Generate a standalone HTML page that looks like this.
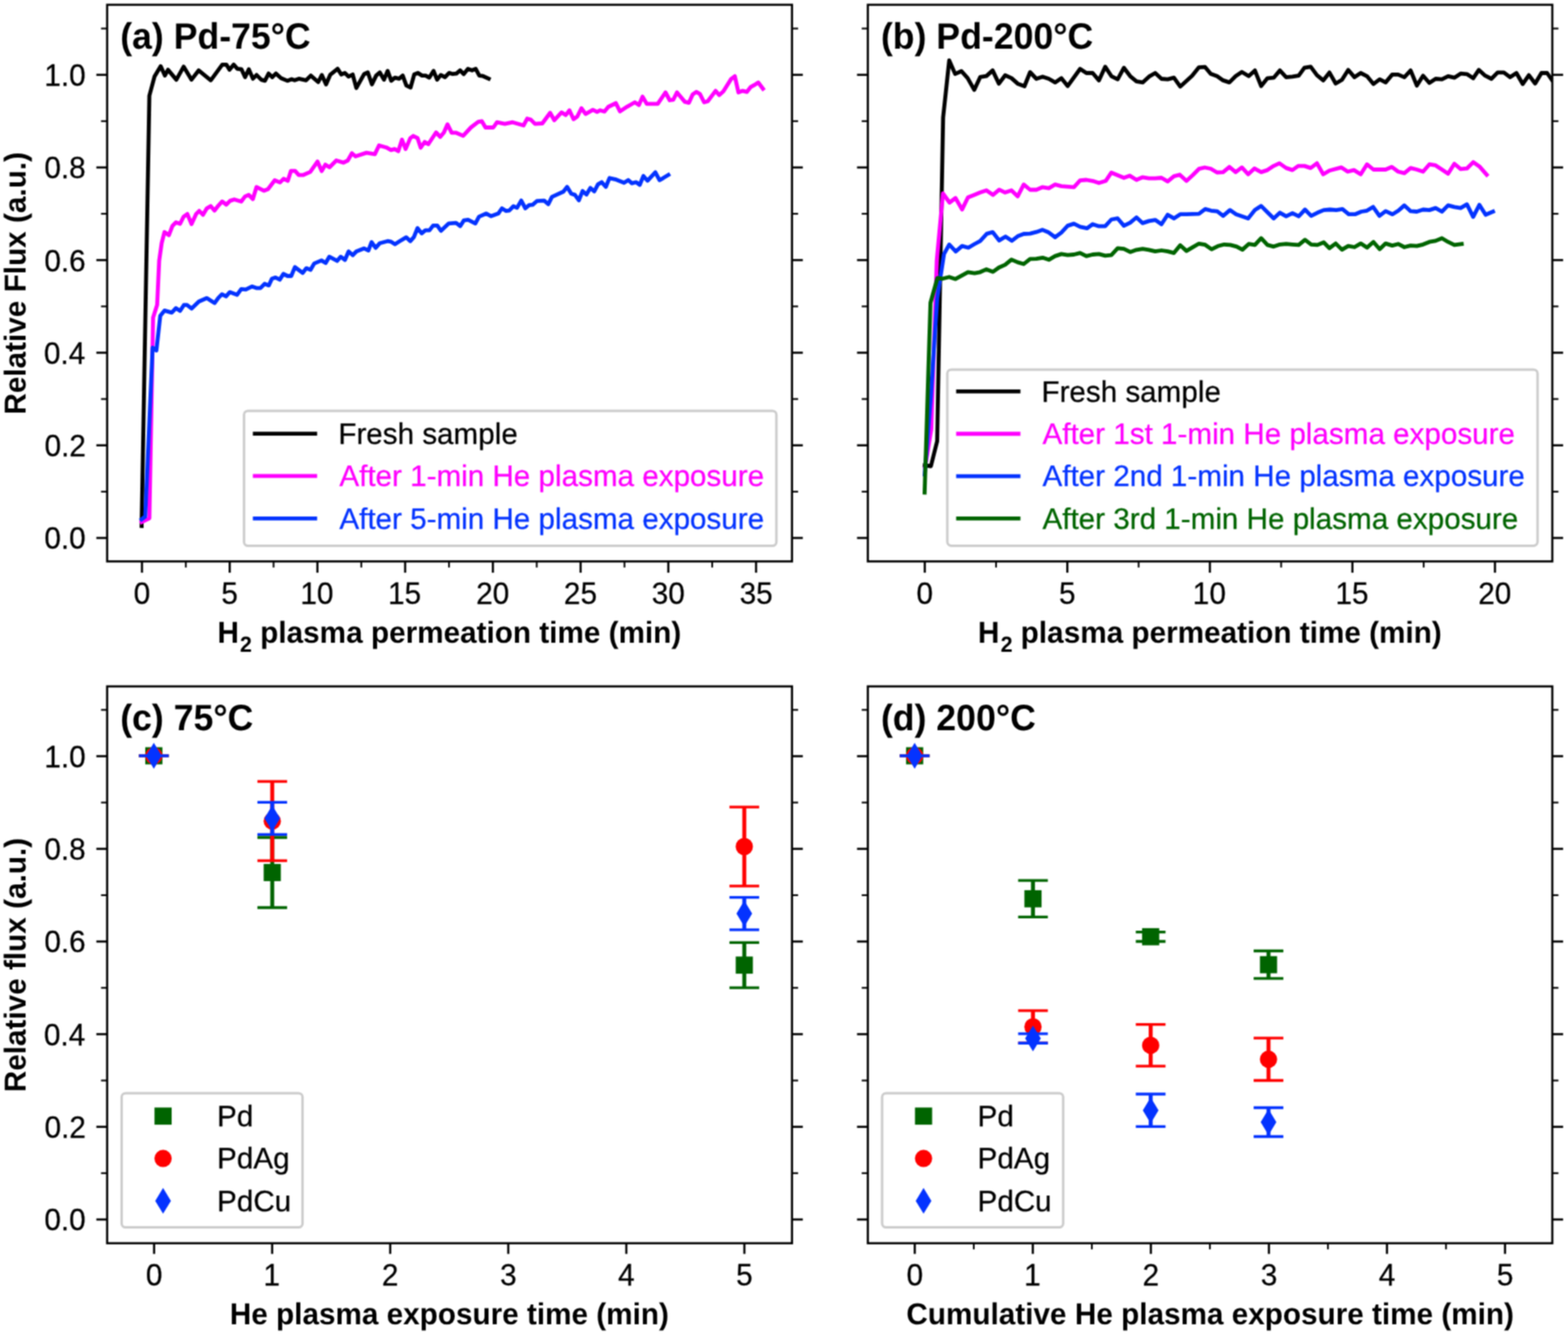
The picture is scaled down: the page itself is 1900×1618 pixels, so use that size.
<!DOCTYPE html>
<html lang="en">
<head>
<meta charset="utf-8">
<title>Relative flux vs plasma exposure</title>
<style>
html,body{margin:0;padding:0;background:#ffffff;}
body{width:1900px;height:1618px;overflow:hidden;}
svg{display:block;font-family:'Liberation Sans', sans-serif;}
</style>
</head>
<body>
<svg width="1900" height="1618" viewBox="0 0 1900 1618" role="img" aria-label="Relative hydrogen flux versus plasma exposure, four panels">
<rect x="0" y="0" width="1900" height="1618" fill="#ffffff"/>
<defs><filter id="soft" x="0" y="0" width="1900" height="1618" filterUnits="userSpaceOnUse" color-interpolation-filters="sRGB"><feConvolveMatrix order="3" kernelMatrix="1 2 1 2 4 2 1 2 1" divisor="16" edgeMode="duplicate" preserveAlpha="false"/></filter></defs>
<g filter="url(#soft)">
<rect x="0" y="0" width="1900" height="1618" fill="#ffffff"/>
<defs>
<clipPath id="cA"><rect x="129.85" y="5.8" width="829.85" height="674.6"/></clipPath>
<clipPath id="cB"><rect x="1051.6" y="5.8" width="829.4" height="674.6"/></clipPath>
</defs>
<g id="panel-a">
<polyline points="171.6,637.5 181,116 187.2,92.8 194.7,80.2 199.8,91.6 203.6,84.6 213.7,96.6 222.5,80.8 232,96.6 240.8,85.3 255.4,97.3 269.3,78.3 274.3,78.3 278.1,84.6 283.2,78.3 287.6,83.4 292.6,84 297,93.5 301.5,84 306.5,95.4 310.9,90.9 316.6,96.6 321,97.9 325.5,89.1 329.9,93.5 334.3,89.1 340.6,94.7 348.2,97.9 353.3,96 357,97.3 362.1,95.4 370.9,97.3 376.6,91.6 385.6,99.5 390,90.9 395.1,102.3 400.1,90.7 409.1,83.4 413.5,90.3 417.9,88.4 422.3,92.8 427.4,90.3 431.8,106.7 441.3,89.7 445.7,87.8 450.7,102.3 455.8,91.6 460.2,87.8 465.3,96.6 469.7,85.9 474.1,97.9 478.5,94.1 483.6,95.4 488,91.6 492.4,103.6 497.5,106.1 501.9,90.3 506.3,88.4 511.4,91.6 515.8,91.6 520.2,94.1 525.3,85.9 529.7,96.6 534.1,90.9 539.2,93.5 544.2,88.4 548.6,89.7 553.1,89.1 557.5,85.3 561.9,89.7 567,83.4 572,85.3 576.4,83.4 580.8,91.6 585.3,92.2 592.2,95.4" fill="none" stroke="#000000" stroke-width="4.8" stroke-linejoin="round" stroke-linecap="square" clip-path="url(#cA)"/>
<polyline points="171.6,632.8 181,628 185.5,385 190.4,369.5 192.9,315.8 195.9,294.7 199.3,281.3 204.7,285 209,273.7 213.2,269.5 218.2,271.2 222.4,262.7 227,259.4 232.1,271.6 237.6,259.4 241.4,255.6 246,260.2 250.6,252.6 255.3,249.7 259.9,255.2 264.5,249.3 269.2,244.2 274.2,248 278.8,243.4 283.9,241.7 292.3,244.2 296.9,238.1 301.4,236.2 306.4,241.3 310.8,226.7 319.7,231.2 324.7,229.3 332.9,218.5 339.3,221.1 343.7,216.6 348.7,219.2 352.5,207.2 357.6,207.2 362,212.2 367.1,212.2 375.9,208.4 384.7,195.8 389.8,207.2 394.2,199.6 399.3,202.7 407.5,194.5 416.3,197.1 421.4,194.5 426.4,185.7 430.8,189.5 444.1,185.1 454.2,186.9 459.3,176.2 468.1,178.7 473.8,181.9 478.2,180.6 482.6,183.2 487.1,169.3 491.5,180.6 497.2,167.4 500.9,164.8 506,167.4 509.8,179 514.6,172 519,174.8 528.4,160.5 533.4,165.9 537.8,160.8 542.2,150.7 547.3,160.8 552.3,160.8 561.2,164.6 570.6,154.5 579.5,147.6 583.9,147 588.3,154.5 597.8,154.5 602.2,148.2 611.7,150.1 621.2,148.2 634.4,152 638.8,143.8 643.3,145.1 648.3,150.1 657.2,149.5 666.6,136.8 671.7,145.7 680.5,136.2 685.6,139.4 690,133.7 695,144.4 699.5,141.3 704.5,131.2 709.6,138.1 718.4,133.1 723.5,135.6 727.3,133.7 732.4,135.2 737.1,129.5 746.3,125 751.2,135 760.3,129.1 769.2,124 774.2,127.2 778.6,117.1 783.7,125.9 797,125.9 806.4,112 811.5,121.5 815.9,120.8 820.3,112 829.8,123.4 834.8,124.6 839.3,114.5 843.7,111.4 848.1,113.9 853.2,124 857.6,122.7 867.1,110.1 871.5,115.2 876.5,110.7 886,95.6 890.4,92.4 894.8,112 899.9,110.1 904.9,111.4 909.4,105.7 913.8,103.2 918.8,100 924.5,107.6" fill="none" stroke="#ff00ff" stroke-width="4.8" stroke-linejoin="round" stroke-linecap="square" clip-path="url(#cA)"/>
<polyline points="171.6,629.5 176,626 184.9,421.5 189.5,424.8 194.2,382.7 199.3,376.4 208.1,378.9 213.2,373.5 218.2,376.8 222.8,369.7 226.6,369.7 232.1,373.9 240.9,365.5 250.6,361.3 260,367.3 264.5,361.1 268.9,356.6 273.9,359.2 278.4,354.1 287.2,357.3 292.3,350.3 297.9,350.9 305.5,347.2 310.6,349.1 315.6,349.1 320.7,344 325.7,345.9 329.5,337.7 333.9,336.4 339,338.9 343.4,332 348.5,334.5 352.9,334.5 357.3,323.8 366.8,330.7 371.2,325.1 376.3,327 380.7,319.4 389.5,315.6 394.6,318.7 399,311.2 408.5,316.2 412.9,311.2 418,315 422.4,304.8 427.4,309.3 431.8,304.8 441.3,301.1 446.4,303.6 450.2,293.5 455.2,300.4 460.3,294.7 469.7,292.2 473.5,292.8 478.6,296 483.6,292.8 492.2,287.6 497.1,292.3 501.5,287.3 505.9,276.5 510.9,282.8 515.4,279.1 520.4,279.1 524.8,273.4 529.9,273.4 534.3,279.7 543.8,270.8 552.6,270.2 557.7,274 562.1,267.1 567.2,266.4 576,270.8 580.4,262.6 589.3,258.8 594.9,262 603.8,258.8 608.2,252.5 613.3,255.7 617.1,255.1 622.1,250 626.5,251.9 631.6,243.1 636.6,252.5 641.1,248.7 645.5,248.1 650.5,243.7 659.4,243.1 664.4,247.5 668.8,238.6 682.7,232.3 687.2,226.6 692.2,234.8 696.6,236.1 701.5,242.7 705.9,231.6 710.6,235.8 715.4,227.8 720.1,232 724.6,223.4 729.1,220.8 734.1,226.5 738.5,215.8 746.7,217.7 756.2,221.5 761.3,218.3 765.7,222.1 770.7,220.8 775.2,224 779.6,213.3 784.6,219 794.1,208.8 799.2,218.3 803.6,215.8 809.9,212" fill="none" stroke="#0433ff" stroke-width="4.8" stroke-linejoin="round" stroke-linecap="square" clip-path="url(#cA)"/>
<line x1="116.75" y1="652" x2="129.85" y2="652" stroke="#000000" stroke-width="2.6" stroke-linecap="butt"/>
<line x1="959.7" y1="652" x2="972.8" y2="652" stroke="#000000" stroke-width="2.6" stroke-linecap="butt"/>
<text x="53.66" y="665.3" font-size="36" stroke="#000000" stroke-width="0.3">0.0</text>
<line x1="116.75" y1="539.74" x2="129.85" y2="539.74" stroke="#000000" stroke-width="2.6" stroke-linecap="butt"/>
<line x1="959.7" y1="539.74" x2="972.8" y2="539.74" stroke="#000000" stroke-width="2.6" stroke-linecap="butt"/>
<text x="54.06" y="553.04" font-size="36" stroke="#000000" stroke-width="0.3">0.2</text>
<line x1="116.75" y1="427.48" x2="129.85" y2="427.48" stroke="#000000" stroke-width="2.6" stroke-linecap="butt"/>
<line x1="959.7" y1="427.48" x2="972.8" y2="427.48" stroke="#000000" stroke-width="2.6" stroke-linecap="butt"/>
<text x="53.31" y="440.78" font-size="36" stroke="#000000" stroke-width="0.3">0.4</text>
<line x1="116.75" y1="315.22" x2="129.85" y2="315.22" stroke="#000000" stroke-width="2.6" stroke-linecap="butt"/>
<line x1="959.7" y1="315.22" x2="972.8" y2="315.22" stroke="#000000" stroke-width="2.6" stroke-linecap="butt"/>
<text x="53.84" y="328.52" font-size="36" stroke="#000000" stroke-width="0.3">0.6</text>
<line x1="116.75" y1="202.96" x2="129.85" y2="202.96" stroke="#000000" stroke-width="2.6" stroke-linecap="butt"/>
<line x1="959.7" y1="202.96" x2="972.8" y2="202.96" stroke="#000000" stroke-width="2.6" stroke-linecap="butt"/>
<text x="53.82" y="216.26" font-size="36" stroke="#000000" stroke-width="0.3">0.8</text>
<line x1="116.75" y1="90.7" x2="129.85" y2="90.7" stroke="#000000" stroke-width="2.6" stroke-linecap="butt"/>
<line x1="959.7" y1="90.7" x2="972.8" y2="90.7" stroke="#000000" stroke-width="2.6" stroke-linecap="butt"/>
<text x="53.66" y="104" font-size="36" stroke="#000000" stroke-width="0.3">1.0</text>
<line x1="122.45" y1="595.87" x2="129.85" y2="595.87" stroke="#000000" stroke-width="2.1" stroke-linecap="butt"/>
<line x1="959.7" y1="595.87" x2="967.1" y2="595.87" stroke="#000000" stroke-width="2.1" stroke-linecap="butt"/>
<line x1="122.45" y1="483.61" x2="129.85" y2="483.61" stroke="#000000" stroke-width="2.1" stroke-linecap="butt"/>
<line x1="959.7" y1="483.61" x2="967.1" y2="483.61" stroke="#000000" stroke-width="2.1" stroke-linecap="butt"/>
<line x1="122.45" y1="371.35" x2="129.85" y2="371.35" stroke="#000000" stroke-width="2.1" stroke-linecap="butt"/>
<line x1="959.7" y1="371.35" x2="967.1" y2="371.35" stroke="#000000" stroke-width="2.1" stroke-linecap="butt"/>
<line x1="122.45" y1="259.09" x2="129.85" y2="259.09" stroke="#000000" stroke-width="2.1" stroke-linecap="butt"/>
<line x1="959.7" y1="259.09" x2="967.1" y2="259.09" stroke="#000000" stroke-width="2.1" stroke-linecap="butt"/>
<line x1="122.45" y1="146.83" x2="129.85" y2="146.83" stroke="#000000" stroke-width="2.1" stroke-linecap="butt"/>
<line x1="959.7" y1="146.83" x2="967.1" y2="146.83" stroke="#000000" stroke-width="2.1" stroke-linecap="butt"/>
<line x1="122.45" y1="34.57" x2="129.85" y2="34.57" stroke="#000000" stroke-width="2.1" stroke-linecap="butt"/>
<line x1="959.7" y1="34.57" x2="967.1" y2="34.57" stroke="#000000" stroke-width="2.1" stroke-linecap="butt"/>
<line x1="172.04" y1="680.4" x2="172.04" y2="694.1" stroke="#000000" stroke-width="2.6" stroke-linecap="butt"/>
<text x="162.02" y="732.2" font-size="36" stroke="#000000" stroke-width="0.3">0</text>
<line x1="278.34" y1="680.4" x2="278.34" y2="694.1" stroke="#000000" stroke-width="2.6" stroke-linecap="butt"/>
<text x="268.36" y="732.2" font-size="36" stroke="#000000" stroke-width="0.3">5</text>
<line x1="384.64" y1="680.4" x2="384.64" y2="694.1" stroke="#000000" stroke-width="2.6" stroke-linecap="butt"/>
<text x="363.95" y="732.2" font-size="36" stroke="#000000" stroke-width="0.3">10</text>
<line x1="490.94" y1="680.4" x2="490.94" y2="694.1" stroke="#000000" stroke-width="2.6" stroke-linecap="butt"/>
<text x="470.3" y="732.2" font-size="36" stroke="#000000" stroke-width="0.3">15</text>
<line x1="597.24" y1="680.4" x2="597.24" y2="694.1" stroke="#000000" stroke-width="2.6" stroke-linecap="butt"/>
<text x="577.01" y="732.2" font-size="36" stroke="#000000" stroke-width="0.3">20</text>
<line x1="703.54" y1="680.4" x2="703.54" y2="694.1" stroke="#000000" stroke-width="2.6" stroke-linecap="butt"/>
<text x="683.37" y="732.2" font-size="36" stroke="#000000" stroke-width="0.3">25</text>
<line x1="809.84" y1="680.4" x2="809.84" y2="694.1" stroke="#000000" stroke-width="2.6" stroke-linecap="butt"/>
<text x="789.83" y="732.2" font-size="36" stroke="#000000" stroke-width="0.3">30</text>
<line x1="916.14" y1="680.4" x2="916.14" y2="694.1" stroke="#000000" stroke-width="2.6" stroke-linecap="butt"/>
<text x="896.19" y="732.2" font-size="36" stroke="#000000" stroke-width="0.3">35</text>
<line x1="225.19" y1="680.4" x2="225.19" y2="687.8" stroke="#000000" stroke-width="2.1" stroke-linecap="butt"/>
<line x1="331.49" y1="680.4" x2="331.49" y2="687.8" stroke="#000000" stroke-width="2.1" stroke-linecap="butt"/>
<line x1="437.79" y1="680.4" x2="437.79" y2="687.8" stroke="#000000" stroke-width="2.1" stroke-linecap="butt"/>
<line x1="544.09" y1="680.4" x2="544.09" y2="687.8" stroke="#000000" stroke-width="2.1" stroke-linecap="butt"/>
<line x1="650.39" y1="680.4" x2="650.39" y2="687.8" stroke="#000000" stroke-width="2.1" stroke-linecap="butt"/>
<line x1="756.69" y1="680.4" x2="756.69" y2="687.8" stroke="#000000" stroke-width="2.1" stroke-linecap="butt"/>
<line x1="862.99" y1="680.4" x2="862.99" y2="687.8" stroke="#000000" stroke-width="2.1" stroke-linecap="butt"/>
<rect x="129.85" y="5.8" width="829.85" height="674.6" fill="none" stroke="#000" stroke-width="2.6"/>
</g>
<g id="panel-b">
<polyline points="1120.5,564 1128,565 1135.6,534.7 1142.8,142.6 1150.2,73.2 1157.4,89.6 1164.9,86.2 1172.5,94.6 1180.5,108.9 1187.7,93.4 1195.3,92.1 1202.8,85.4 1210.4,101.4 1218,91.3 1225.6,94.6 1233.2,101.4 1241.4,104.5 1248.2,87.5 1255.8,95.5 1263.4,92.9 1270.9,95.5 1278.5,99.9 1286.1,94.8 1293.7,104.3 1308.8,83.5 1316.4,88.5 1324,88.5 1331.6,97.4 1339.2,80.9 1346.7,92.3 1354.3,96.1 1361.9,82.2 1369.5,92.3 1377.1,98.6 1384.6,99.9 1392.2,92.9 1399.8,88.5 1407.4,95.5 1414.9,96.1 1422.5,94.2 1430.1,104.9 1444.6,91.7 1452.8,81.6 1460.2,81.2 1467.1,89.5 1474.7,92.3 1482.1,97.4 1489.7,99.9 1497.3,92.3 1504.8,87.3 1513.1,92.3 1520.6,85.4 1528.2,104.3 1535.8,94.8 1543.4,94.2 1550.9,85.4 1558.5,93.6 1566.1,92.9 1573.7,91.7 1580.6,82.2 1588.2,80.9 1595.8,91.1 1603.4,97.4 1610.9,87.9 1618.5,101.2 1626.1,96.7 1633.7,84.7 1641.3,93.6 1648.8,88.5 1656.4,92.3 1664.2,101.8 1671.8,96.1 1679,99.9 1687,90.4 1694.2,90.4 1701.7,93.6 1709.3,85.4 1716.8,103.7 1724.4,91.7 1732,100.5 1739.6,95.5 1747.2,96.1 1754.7,92.3 1762.3,94.2 1769.9,89.2 1777.5,89.8 1785.1,94.8 1792,84.7 1799.6,91.7 1807.2,95.5 1814.7,87.9 1822.3,87.9 1829.9,93.6 1837.5,88.5 1845.1,101.8 1852.6,91.1 1860.2,101.2 1867.8,88.5 1874.7,88.5 1882.3,99.5" fill="none" stroke="#000000" stroke-width="4.8" stroke-linejoin="round" stroke-linecap="square" clip-path="url(#cB)"/>
<polyline points="1121,566 1128.5,520 1135.1,316 1142.6,234.5 1150.6,245.5 1157.8,240 1165.8,253.9 1172.9,239.2 1180.5,236.2 1187.7,233.3 1195.3,230.7 1203.3,236.2 1210.8,229.9 1218,233.3 1225.6,230.7 1233.2,237.9 1240.5,223.7 1248.2,230 1255.8,230 1263.4,226.8 1270.9,228.1 1278.5,223.7 1286.1,225.6 1301.3,226.8 1308.8,218.6 1316.4,218 1324,219.3 1331.6,221.8 1339.8,219.3 1346.7,209.2 1361.9,215.5 1368.8,212.9 1377.1,218 1384.6,214.8 1392.2,216.1 1399.8,216.1 1407.4,215.5 1414.9,219.9 1422.5,213.6 1429.5,211.7 1437.7,219.3 1445.3,212.3 1452.8,204.7 1459.8,203 1467.1,204.5 1474.7,209 1482.1,208.6 1489.7,202.3 1497.3,208.6 1504.8,202.9 1512.4,211.2 1520,204.2 1528.2,208.6 1535.8,206.1 1543.4,201.1 1550.3,197.9 1558.5,203.6 1566.1,206.1 1573.1,201.1 1580.6,201.1 1588.2,203.6 1595.8,197.9 1603.4,211.2 1610.9,206.7 1625.5,202.9 1633.1,208 1640.6,206.1 1648.8,211.2 1656.4,199.2 1664.2,205.5 1679,205.5 1686.6,202.3 1694.2,208 1701.7,209.9 1709.3,203.6 1716.8,205.5 1724.4,208 1732,199.2 1739.6,200.4 1747.2,205.5 1754.7,210.5 1762.3,198.5 1769.9,204.8 1777.5,204.2 1785.1,196.6 1792.6,201.7 1801.5,211.8" fill="none" stroke="#ff00ff" stroke-width="4.8" stroke-linejoin="round" stroke-linecap="square" clip-path="url(#cB)"/>
<polyline points="1120.5,575 1128,480 1135.6,362 1143.9,307.8 1150.2,296.4 1158.2,304.8 1165.8,298.1 1173.4,300.2 1180.5,296 1187.7,292.2 1195.7,283.4 1202.8,281.3 1210.8,291.4 1218.4,286.7 1226,291.8 1233.2,286.3 1240.5,283.5 1248.2,283.1 1255.8,281.2 1263.4,278.6 1270.9,281.8 1278.5,287.5 1286.1,281.8 1293.7,273.6 1301.3,271.1 1308.8,274.8 1317.1,276.7 1324,271.7 1331.6,274.2 1339.2,274.2 1346.7,266 1354.3,264.7 1361.9,273.6 1369.5,269.8 1377.1,263.5 1384.6,270.4 1392.2,267.9 1399.8,266.6 1407.4,271.7 1414.9,260.3 1422.5,264.7 1430.1,259.7 1437.7,259.7 1452.8,259.1 1460.4,253.4 1467.4,255.3 1475,256.2 1482.1,261.6 1490.3,254.6 1497.9,259.7 1512.4,264.7 1520.6,254.6 1528.2,249.6 1535.8,257.2 1543.4,264.7 1550.9,257.8 1558.5,262.2 1566.1,258.4 1573.7,262.2 1581.3,254 1588.8,261.6 1596.4,257.8 1604,254.6 1611.6,254 1619.2,254.6 1626.7,253.4 1634.3,259.7 1641.9,259.7 1649.5,256.5 1656.4,255.3 1663.9,250.8 1671.5,261.6 1679,255.9 1687.3,259.7 1694.5,255.3 1701.7,248.9 1709.3,255.9 1716.8,256.5 1724.4,254 1732,254.6 1739.6,252.1 1747.2,256.5 1754.7,248.9 1762.3,250.8 1769.9,252.1 1777.5,247.7 1785.1,262.8 1792.6,248.3 1800.2,260.3 1809.1,256.5" fill="none" stroke="#0433ff" stroke-width="4.8" stroke-linejoin="round" stroke-linecap="square" clip-path="url(#cB)"/>
<polyline points="1120.4,597 1127.5,367 1135.9,337 1142.2,337.8 1150.2,335.7 1157.8,338.2 1172.9,329.8 1180.9,331.1 1187.7,329.8 1195.3,326.4 1203.3,329.4 1210.4,324.3 1218,320.9 1225.6,314.6 1233.2,317.9 1240.5,320 1248.2,313.8 1255.8,313.6 1263.4,312.3 1270.9,314.8 1278.5,310.4 1286.1,307.9 1293.7,309.2 1301.3,308.5 1308.8,306.6 1316.4,310.4 1324,308.5 1331.6,307.9 1339.2,309.8 1346.7,309.2 1354.3,300.9 1361.9,301.6 1369.5,305.4 1377.1,302.8 1384.6,301.6 1392.2,302.8 1399.8,304.7 1407.4,303.5 1414.9,304.7 1422.5,306.6 1430.1,297.2 1437.7,304.1 1445.3,299.7 1452.8,295.3 1460.4,296.7 1468.1,302.1 1475.7,298.3 1483.4,296.3 1490.9,296.9 1498.5,298.8 1505.5,302.6 1513.1,295.7 1520.6,296.9 1528.2,288.7 1535.8,296.9 1543.4,298.8 1550.9,296.3 1558.5,295.7 1566.1,296.3 1573.7,296.9 1581.3,290.6 1588.8,296.3 1596.4,296.9 1604,293.8 1610.9,300.7 1618.5,295.1 1626.1,302.6 1633.7,298.2 1641.3,299.5 1648.8,295.1 1656.4,300.1 1664.2,293.2 1671.8,302 1679,295.1 1687,297.6 1694.2,295.7 1701.7,299.5 1709.3,297.6 1716.8,298.2 1724.4,296.3 1732,293.2 1739.6,291.9 1747.2,288.7 1754.7,293.2 1762.3,296.9 1771.2,295.7" fill="none" stroke="#006400" stroke-width="4.8" stroke-linejoin="round" stroke-linecap="square" clip-path="url(#cB)"/>
<line x1="1038.5" y1="652" x2="1051.6" y2="652" stroke="#000000" stroke-width="2.6" stroke-linecap="butt"/>
<line x1="1881" y1="652" x2="1894.1" y2="652" stroke="#000000" stroke-width="2.6" stroke-linecap="butt"/>
<line x1="1038.5" y1="539.74" x2="1051.6" y2="539.74" stroke="#000000" stroke-width="2.6" stroke-linecap="butt"/>
<line x1="1881" y1="539.74" x2="1894.1" y2="539.74" stroke="#000000" stroke-width="2.6" stroke-linecap="butt"/>
<line x1="1038.5" y1="427.48" x2="1051.6" y2="427.48" stroke="#000000" stroke-width="2.6" stroke-linecap="butt"/>
<line x1="1881" y1="427.48" x2="1894.1" y2="427.48" stroke="#000000" stroke-width="2.6" stroke-linecap="butt"/>
<line x1="1038.5" y1="315.22" x2="1051.6" y2="315.22" stroke="#000000" stroke-width="2.6" stroke-linecap="butt"/>
<line x1="1881" y1="315.22" x2="1894.1" y2="315.22" stroke="#000000" stroke-width="2.6" stroke-linecap="butt"/>
<line x1="1038.5" y1="202.96" x2="1051.6" y2="202.96" stroke="#000000" stroke-width="2.6" stroke-linecap="butt"/>
<line x1="1881" y1="202.96" x2="1894.1" y2="202.96" stroke="#000000" stroke-width="2.6" stroke-linecap="butt"/>
<line x1="1038.5" y1="90.7" x2="1051.6" y2="90.7" stroke="#000000" stroke-width="2.6" stroke-linecap="butt"/>
<line x1="1881" y1="90.7" x2="1894.1" y2="90.7" stroke="#000000" stroke-width="2.6" stroke-linecap="butt"/>
<line x1="1044.2" y1="595.87" x2="1051.6" y2="595.87" stroke="#000000" stroke-width="2.1" stroke-linecap="butt"/>
<line x1="1881" y1="595.87" x2="1888.4" y2="595.87" stroke="#000000" stroke-width="2.1" stroke-linecap="butt"/>
<line x1="1044.2" y1="483.61" x2="1051.6" y2="483.61" stroke="#000000" stroke-width="2.1" stroke-linecap="butt"/>
<line x1="1881" y1="483.61" x2="1888.4" y2="483.61" stroke="#000000" stroke-width="2.1" stroke-linecap="butt"/>
<line x1="1044.2" y1="371.35" x2="1051.6" y2="371.35" stroke="#000000" stroke-width="2.1" stroke-linecap="butt"/>
<line x1="1881" y1="371.35" x2="1888.4" y2="371.35" stroke="#000000" stroke-width="2.1" stroke-linecap="butt"/>
<line x1="1044.2" y1="259.09" x2="1051.6" y2="259.09" stroke="#000000" stroke-width="2.1" stroke-linecap="butt"/>
<line x1="1881" y1="259.09" x2="1888.4" y2="259.09" stroke="#000000" stroke-width="2.1" stroke-linecap="butt"/>
<line x1="1044.2" y1="146.83" x2="1051.6" y2="146.83" stroke="#000000" stroke-width="2.1" stroke-linecap="butt"/>
<line x1="1881" y1="146.83" x2="1888.4" y2="146.83" stroke="#000000" stroke-width="2.1" stroke-linecap="butt"/>
<line x1="1044.2" y1="34.57" x2="1051.6" y2="34.57" stroke="#000000" stroke-width="2.1" stroke-linecap="butt"/>
<line x1="1881" y1="34.57" x2="1888.4" y2="34.57" stroke="#000000" stroke-width="2.1" stroke-linecap="butt"/>
<line x1="1120.6" y1="680.4" x2="1120.6" y2="694.1" stroke="#000000" stroke-width="2.6" stroke-linecap="butt"/>
<text x="1110.58" y="732.2" font-size="36" stroke="#000000" stroke-width="0.3">0</text>
<line x1="1293.32" y1="680.4" x2="1293.32" y2="694.1" stroke="#000000" stroke-width="2.6" stroke-linecap="butt"/>
<text x="1283.34" y="732.2" font-size="36" stroke="#000000" stroke-width="0.3">5</text>
<line x1="1466.05" y1="680.4" x2="1466.05" y2="694.1" stroke="#000000" stroke-width="2.6" stroke-linecap="butt"/>
<text x="1445.36" y="732.2" font-size="36" stroke="#000000" stroke-width="0.3">10</text>
<line x1="1638.78" y1="680.4" x2="1638.78" y2="694.1" stroke="#000000" stroke-width="2.6" stroke-linecap="butt"/>
<text x="1618.14" y="732.2" font-size="36" stroke="#000000" stroke-width="0.3">15</text>
<line x1="1811.5" y1="680.4" x2="1811.5" y2="694.1" stroke="#000000" stroke-width="2.6" stroke-linecap="butt"/>
<text x="1791.27" y="732.2" font-size="36" stroke="#000000" stroke-width="0.3">20</text>
<line x1="1206.96" y1="680.4" x2="1206.96" y2="687.8" stroke="#000000" stroke-width="2.1" stroke-linecap="butt"/>
<line x1="1379.69" y1="680.4" x2="1379.69" y2="687.8" stroke="#000000" stroke-width="2.1" stroke-linecap="butt"/>
<line x1="1552.41" y1="680.4" x2="1552.41" y2="687.8" stroke="#000000" stroke-width="2.1" stroke-linecap="butt"/>
<line x1="1725.14" y1="680.4" x2="1725.14" y2="687.8" stroke="#000000" stroke-width="2.1" stroke-linecap="butt"/>
<rect x="1051.6" y="5.8" width="829.4" height="674.6" fill="none" stroke="#000" stroke-width="2.6"/>
</g>
<g class="legend">
<rect x="295.7" y="498" width="645.1" height="163.6" rx="4.8" ry="4.8" fill="#ffffff" fill-opacity="0.8" stroke="#cccccc" stroke-width="3"/>
<line x1="308.8" y1="525.6" x2="381.9" y2="525.6" stroke="#000000" stroke-width="4.8" stroke-linecap="square"/>
<text x="409.96" y="537.9" font-size="35.9" stroke="#000000" stroke-width="0.3" style="text-rendering:geometricPrecision">Fresh sample</text>
<line x1="308.8" y1="576.95" x2="381.9" y2="576.95" stroke="#ff00ff" stroke-width="4.8" stroke-linecap="square"/>
<text x="411.23" y="589.25" font-size="35.9" fill="#ff00ff" stroke="#ff00ff" stroke-width="0.3" style="text-rendering:geometricPrecision">After 1-min He plasma exposure</text>
<line x1="308.8" y1="628.3" x2="381.9" y2="628.3" stroke="#0433ff" stroke-width="4.8" stroke-linecap="square"/>
<text x="411.23" y="640.6" font-size="35.9" fill="#0433ff" stroke="#0433ff" stroke-width="0.3" style="text-rendering:geometricPrecision">After 5-min He plasma exposure</text>
</g>
<g class="legend">
<rect x="1147.9" y="448" width="715.2" height="213.4" rx="4.8" ry="4.8" fill="#ffffff" fill-opacity="0.8" stroke="#cccccc" stroke-width="3"/>
<line x1="1161" y1="474.4" x2="1234.1" y2="474.4" stroke="#000000" stroke-width="4.8" stroke-linecap="square"/>
<text x="1261.96" y="486.7" font-size="35.9" stroke="#000000" stroke-width="0.3" style="text-rendering:geometricPrecision">Fresh sample</text>
<line x1="1161" y1="525.75" x2="1234.1" y2="525.75" stroke="#ff00ff" stroke-width="4.8" stroke-linecap="square"/>
<text x="1263.23" y="538.05" font-size="35.9" fill="#ff00ff" stroke="#ff00ff" stroke-width="0.3" style="text-rendering:geometricPrecision">After 1st 1-min He plasma exposure</text>
<line x1="1161" y1="577.1" x2="1234.1" y2="577.1" stroke="#0433ff" stroke-width="4.8" stroke-linecap="square"/>
<text x="1263.23" y="589.4" font-size="35.9" fill="#0433ff" stroke="#0433ff" stroke-width="0.3" style="text-rendering:geometricPrecision">After 2nd 1-min He plasma exposure</text>
<line x1="1161" y1="628.45" x2="1234.1" y2="628.45" stroke="#006400" stroke-width="4.8" stroke-linecap="square"/>
<text x="1263.23" y="640.75" font-size="35.9" fill="#006400" stroke="#006400" stroke-width="0.3" style="text-rendering:geometricPrecision">After 3rd 1-min He plasma exposure</text>
</g>
<g id="panel-c">
<line x1="168.4" y1="916" x2="204.4" y2="916" stroke="#006400" stroke-width="3.3" stroke-linecap="butt"/>
<rect x="176" y="905.6" width="20.8" height="20.8" fill="#006400"/>
<line x1="329.9" y1="1015" x2="329.9" y2="1100" stroke="#006400" stroke-width="4.8" stroke-linecap="butt"/>
<line x1="311.9" y1="1015" x2="347.9" y2="1015" stroke="#006400" stroke-width="3.3" stroke-linecap="butt"/>
<line x1="311.9" y1="1100" x2="347.9" y2="1100" stroke="#006400" stroke-width="3.3" stroke-linecap="butt"/>
<rect x="319.5" y="1047.1" width="20.8" height="20.8" fill="#006400"/>
<line x1="901.9" y1="1142.3" x2="901.9" y2="1197.1" stroke="#006400" stroke-width="4.8" stroke-linecap="butt"/>
<line x1="883.9" y1="1142.3" x2="919.9" y2="1142.3" stroke="#006400" stroke-width="3.3" stroke-linecap="butt"/>
<line x1="883.9" y1="1197.1" x2="919.9" y2="1197.1" stroke="#006400" stroke-width="3.3" stroke-linecap="butt"/>
<rect x="891.5" y="1159.3" width="20.8" height="20.8" fill="#006400"/>
<line x1="168.4" y1="916" x2="204.4" y2="916" stroke="#ff0000" stroke-width="3.3" stroke-linecap="butt"/>
<circle cx="186.4" cy="916" r="10.5" fill="#ff0000"/>
<line x1="329.9" y1="947.2" x2="329.9" y2="1043.2" stroke="#ff0000" stroke-width="4.8" stroke-linecap="butt"/>
<line x1="311.9" y1="947.2" x2="347.9" y2="947.2" stroke="#ff0000" stroke-width="3.3" stroke-linecap="butt"/>
<line x1="311.9" y1="1043.2" x2="347.9" y2="1043.2" stroke="#ff0000" stroke-width="3.3" stroke-linecap="butt"/>
<circle cx="329.9" cy="995.2" r="10.5" fill="#ff0000"/>
<line x1="901.9" y1="978.1" x2="901.9" y2="1073.9" stroke="#ff0000" stroke-width="4.8" stroke-linecap="butt"/>
<line x1="883.9" y1="978.1" x2="919.9" y2="978.1" stroke="#ff0000" stroke-width="3.3" stroke-linecap="butt"/>
<line x1="883.9" y1="1073.9" x2="919.9" y2="1073.9" stroke="#ff0000" stroke-width="3.3" stroke-linecap="butt"/>
<circle cx="901.9" cy="1026" r="10.5" fill="#ff0000"/>
<line x1="168.4" y1="916" x2="204.4" y2="916" stroke="#0433ff" stroke-width="3.3" stroke-linecap="butt"/>
<polygon points="186.4,900.3 195.9,916 186.4,931.7 176.9,916" fill="#0433ff"/>
<line x1="329.9" y1="972.3" x2="329.9" y2="1011.3" stroke="#0433ff" stroke-width="4.8" stroke-linecap="butt"/>
<line x1="311.9" y1="972.3" x2="347.9" y2="972.3" stroke="#0433ff" stroke-width="3.3" stroke-linecap="butt"/>
<line x1="311.9" y1="1011.3" x2="347.9" y2="1011.3" stroke="#0433ff" stroke-width="3.3" stroke-linecap="butt"/>
<polygon points="329.9,976.1 339.4,991.8 329.9,1007.5 320.4,991.8" fill="#0433ff"/>
<line x1="901.9" y1="1087.6" x2="901.9" y2="1126.8" stroke="#0433ff" stroke-width="4.8" stroke-linecap="butt"/>
<line x1="883.9" y1="1087.6" x2="919.9" y2="1087.6" stroke="#0433ff" stroke-width="3.3" stroke-linecap="butt"/>
<line x1="883.9" y1="1126.8" x2="919.9" y2="1126.8" stroke="#0433ff" stroke-width="3.3" stroke-linecap="butt"/>
<polygon points="901.9,1091.5 911.4,1107.2 901.9,1122.9 892.4,1107.2" fill="#0433ff"/>
<line x1="116.75" y1="1478" x2="129.85" y2="1478" stroke="#000000" stroke-width="2.6" stroke-linecap="butt"/>
<line x1="959.7" y1="1478" x2="972.8" y2="1478" stroke="#000000" stroke-width="2.6" stroke-linecap="butt"/>
<text x="53.66" y="1491.3" font-size="36" stroke="#000000" stroke-width="0.3">0.0</text>
<line x1="116.75" y1="1365.7" x2="129.85" y2="1365.7" stroke="#000000" stroke-width="2.6" stroke-linecap="butt"/>
<line x1="959.7" y1="1365.7" x2="972.8" y2="1365.7" stroke="#000000" stroke-width="2.6" stroke-linecap="butt"/>
<text x="54.06" y="1379" font-size="36" stroke="#000000" stroke-width="0.3">0.2</text>
<line x1="116.75" y1="1253.4" x2="129.85" y2="1253.4" stroke="#000000" stroke-width="2.6" stroke-linecap="butt"/>
<line x1="959.7" y1="1253.4" x2="972.8" y2="1253.4" stroke="#000000" stroke-width="2.6" stroke-linecap="butt"/>
<text x="53.31" y="1266.7" font-size="36" stroke="#000000" stroke-width="0.3">0.4</text>
<line x1="116.75" y1="1141.1" x2="129.85" y2="1141.1" stroke="#000000" stroke-width="2.6" stroke-linecap="butt"/>
<line x1="959.7" y1="1141.1" x2="972.8" y2="1141.1" stroke="#000000" stroke-width="2.6" stroke-linecap="butt"/>
<text x="53.84" y="1154.4" font-size="36" stroke="#000000" stroke-width="0.3">0.6</text>
<line x1="116.75" y1="1028.8" x2="129.85" y2="1028.8" stroke="#000000" stroke-width="2.6" stroke-linecap="butt"/>
<line x1="959.7" y1="1028.8" x2="972.8" y2="1028.8" stroke="#000000" stroke-width="2.6" stroke-linecap="butt"/>
<text x="53.82" y="1042.1" font-size="36" stroke="#000000" stroke-width="0.3">0.8</text>
<line x1="116.75" y1="916.5" x2="129.85" y2="916.5" stroke="#000000" stroke-width="2.6" stroke-linecap="butt"/>
<line x1="959.7" y1="916.5" x2="972.8" y2="916.5" stroke="#000000" stroke-width="2.6" stroke-linecap="butt"/>
<text x="53.66" y="929.8" font-size="36" stroke="#000000" stroke-width="0.3">1.0</text>
<line x1="122.45" y1="1421.85" x2="129.85" y2="1421.85" stroke="#000000" stroke-width="2.1" stroke-linecap="butt"/>
<line x1="959.7" y1="1421.85" x2="967.1" y2="1421.85" stroke="#000000" stroke-width="2.1" stroke-linecap="butt"/>
<line x1="122.45" y1="1309.55" x2="129.85" y2="1309.55" stroke="#000000" stroke-width="2.1" stroke-linecap="butt"/>
<line x1="959.7" y1="1309.55" x2="967.1" y2="1309.55" stroke="#000000" stroke-width="2.1" stroke-linecap="butt"/>
<line x1="122.45" y1="1197.25" x2="129.85" y2="1197.25" stroke="#000000" stroke-width="2.1" stroke-linecap="butt"/>
<line x1="959.7" y1="1197.25" x2="967.1" y2="1197.25" stroke="#000000" stroke-width="2.1" stroke-linecap="butt"/>
<line x1="122.45" y1="1084.95" x2="129.85" y2="1084.95" stroke="#000000" stroke-width="2.1" stroke-linecap="butt"/>
<line x1="959.7" y1="1084.95" x2="967.1" y2="1084.95" stroke="#000000" stroke-width="2.1" stroke-linecap="butt"/>
<line x1="122.45" y1="972.65" x2="129.85" y2="972.65" stroke="#000000" stroke-width="2.1" stroke-linecap="butt"/>
<line x1="959.7" y1="972.65" x2="967.1" y2="972.65" stroke="#000000" stroke-width="2.1" stroke-linecap="butt"/>
<line x1="122.45" y1="860.35" x2="129.85" y2="860.35" stroke="#000000" stroke-width="2.1" stroke-linecap="butt"/>
<line x1="959.7" y1="860.35" x2="967.1" y2="860.35" stroke="#000000" stroke-width="2.1" stroke-linecap="butt"/>
<line x1="186.75" y1="1506.8" x2="186.75" y2="1519.7" stroke="#000000" stroke-width="2.6" stroke-linecap="butt"/>
<text x="176.73" y="1557.8" font-size="36" stroke="#000000" stroke-width="0.3">0</text>
<line x1="329.8" y1="1506.8" x2="329.8" y2="1519.7" stroke="#000000" stroke-width="2.6" stroke-linecap="butt"/>
<text x="319.29" y="1557.8" font-size="36" stroke="#000000" stroke-width="0.3">1</text>
<line x1="472.85" y1="1506.8" x2="472.85" y2="1519.7" stroke="#000000" stroke-width="2.6" stroke-linecap="butt"/>
<text x="462.83" y="1557.8" font-size="36" stroke="#000000" stroke-width="0.3">2</text>
<line x1="615.9" y1="1506.8" x2="615.9" y2="1519.7" stroke="#000000" stroke-width="2.6" stroke-linecap="butt"/>
<text x="605.99" y="1557.8" font-size="36" stroke="#000000" stroke-width="0.3">3</text>
<line x1="758.95" y1="1506.8" x2="758.95" y2="1519.7" stroke="#000000" stroke-width="2.6" stroke-linecap="butt"/>
<text x="749.05" y="1557.8" font-size="36" stroke="#000000" stroke-width="0.3">4</text>
<line x1="902" y1="1506.8" x2="902" y2="1519.7" stroke="#000000" stroke-width="2.6" stroke-linecap="butt"/>
<text x="892.02" y="1557.8" font-size="36" stroke="#000000" stroke-width="0.3">5</text>
<rect x="129.85" y="831.9" width="829.85" height="674.9" fill="none" stroke="#000" stroke-width="2.6"/>
</g>
<g id="panel-d">
<line x1="1090.3" y1="916" x2="1126.3" y2="916" stroke="#006400" stroke-width="3.3" stroke-linecap="butt"/>
<rect x="1097.9" y="905.6" width="20.8" height="20.8" fill="#006400"/>
<line x1="1251.7" y1="1067.2" x2="1251.7" y2="1111.4" stroke="#006400" stroke-width="4.8" stroke-linecap="butt"/>
<line x1="1233.7" y1="1067.2" x2="1269.7" y2="1067.2" stroke="#006400" stroke-width="3.3" stroke-linecap="butt"/>
<line x1="1233.7" y1="1111.4" x2="1269.7" y2="1111.4" stroke="#006400" stroke-width="3.3" stroke-linecap="butt"/>
<rect x="1241.3" y="1078.9" width="20.8" height="20.8" fill="#006400"/>
<line x1="1394.3" y1="1129.6" x2="1394.3" y2="1141" stroke="#006400" stroke-width="4.8" stroke-linecap="butt"/>
<line x1="1376.3" y1="1129.6" x2="1412.3" y2="1129.6" stroke="#006400" stroke-width="3.3" stroke-linecap="butt"/>
<line x1="1376.3" y1="1141" x2="1412.3" y2="1141" stroke="#006400" stroke-width="3.3" stroke-linecap="butt"/>
<rect x="1383.9" y="1124.9" width="20.8" height="20.8" fill="#006400"/>
<line x1="1537.1" y1="1152.5" x2="1537.1" y2="1185.9" stroke="#006400" stroke-width="4.8" stroke-linecap="butt"/>
<line x1="1519.1" y1="1152.5" x2="1555.1" y2="1152.5" stroke="#006400" stroke-width="3.3" stroke-linecap="butt"/>
<line x1="1519.1" y1="1185.9" x2="1555.1" y2="1185.9" stroke="#006400" stroke-width="3.3" stroke-linecap="butt"/>
<rect x="1526.7" y="1158.8" width="20.8" height="20.8" fill="#006400"/>
<line x1="1090.3" y1="916" x2="1126.3" y2="916" stroke="#ff0000" stroke-width="3.3" stroke-linecap="butt"/>
<circle cx="1108.3" cy="916" r="10.5" fill="#ff0000"/>
<line x1="1251.7" y1="1224.8" x2="1251.7" y2="1264.2" stroke="#ff0000" stroke-width="4.8" stroke-linecap="butt"/>
<line x1="1233.7" y1="1224.8" x2="1269.7" y2="1224.8" stroke="#ff0000" stroke-width="3.3" stroke-linecap="butt"/>
<line x1="1233.7" y1="1264.2" x2="1269.7" y2="1264.2" stroke="#ff0000" stroke-width="3.3" stroke-linecap="butt"/>
<circle cx="1251.7" cy="1244.5" r="10.5" fill="#ff0000"/>
<line x1="1394.3" y1="1241.7" x2="1394.3" y2="1292.1" stroke="#ff0000" stroke-width="4.8" stroke-linecap="butt"/>
<line x1="1376.3" y1="1241.7" x2="1412.3" y2="1241.7" stroke="#ff0000" stroke-width="3.3" stroke-linecap="butt"/>
<line x1="1376.3" y1="1292.1" x2="1412.3" y2="1292.1" stroke="#ff0000" stroke-width="3.3" stroke-linecap="butt"/>
<circle cx="1394.3" cy="1266.9" r="10.5" fill="#ff0000"/>
<line x1="1537.1" y1="1258.1" x2="1537.1" y2="1309.5" stroke="#ff0000" stroke-width="4.8" stroke-linecap="butt"/>
<line x1="1519.1" y1="1258.1" x2="1555.1" y2="1258.1" stroke="#ff0000" stroke-width="3.3" stroke-linecap="butt"/>
<line x1="1519.1" y1="1309.5" x2="1555.1" y2="1309.5" stroke="#ff0000" stroke-width="3.3" stroke-linecap="butt"/>
<circle cx="1537.1" cy="1283.8" r="10.5" fill="#ff0000"/>
<line x1="1090.3" y1="916" x2="1126.3" y2="916" stroke="#0433ff" stroke-width="3.3" stroke-linecap="butt"/>
<polygon points="1108.3,900.3 1117.8,916 1108.3,931.7 1098.8,916" fill="#0433ff"/>
<line x1="1251.7" y1="1252.95" x2="1251.7" y2="1264.25" stroke="#0433ff" stroke-width="4.8" stroke-linecap="butt"/>
<line x1="1233.7" y1="1252.95" x2="1269.7" y2="1252.95" stroke="#0433ff" stroke-width="3.3" stroke-linecap="butt"/>
<line x1="1233.7" y1="1264.25" x2="1269.7" y2="1264.25" stroke="#0433ff" stroke-width="3.3" stroke-linecap="butt"/>
<polygon points="1251.7,1242.9 1261.2,1258.6 1251.7,1274.3 1242.2,1258.6" fill="#0433ff"/>
<line x1="1394.3" y1="1326" x2="1394.3" y2="1365.4" stroke="#0433ff" stroke-width="4.8" stroke-linecap="butt"/>
<line x1="1376.3" y1="1326" x2="1412.3" y2="1326" stroke="#0433ff" stroke-width="3.3" stroke-linecap="butt"/>
<line x1="1376.3" y1="1365.4" x2="1412.3" y2="1365.4" stroke="#0433ff" stroke-width="3.3" stroke-linecap="butt"/>
<polygon points="1394.3,1330 1403.8,1345.7 1394.3,1361.4 1384.8,1345.7" fill="#0433ff"/>
<line x1="1537.1" y1="1342.5" x2="1537.1" y2="1377.5" stroke="#0433ff" stroke-width="4.8" stroke-linecap="butt"/>
<line x1="1519.1" y1="1342.5" x2="1555.1" y2="1342.5" stroke="#0433ff" stroke-width="3.3" stroke-linecap="butt"/>
<line x1="1519.1" y1="1377.5" x2="1555.1" y2="1377.5" stroke="#0433ff" stroke-width="3.3" stroke-linecap="butt"/>
<polygon points="1537.1,1344.3 1546.6,1360 1537.1,1375.7 1527.6,1360" fill="#0433ff"/>
<line x1="1038.5" y1="1478" x2="1051.6" y2="1478" stroke="#000000" stroke-width="2.6" stroke-linecap="butt"/>
<line x1="1881" y1="1478" x2="1894.1" y2="1478" stroke="#000000" stroke-width="2.6" stroke-linecap="butt"/>
<line x1="1038.5" y1="1365.7" x2="1051.6" y2="1365.7" stroke="#000000" stroke-width="2.6" stroke-linecap="butt"/>
<line x1="1881" y1="1365.7" x2="1894.1" y2="1365.7" stroke="#000000" stroke-width="2.6" stroke-linecap="butt"/>
<line x1="1038.5" y1="1253.4" x2="1051.6" y2="1253.4" stroke="#000000" stroke-width="2.6" stroke-linecap="butt"/>
<line x1="1881" y1="1253.4" x2="1894.1" y2="1253.4" stroke="#000000" stroke-width="2.6" stroke-linecap="butt"/>
<line x1="1038.5" y1="1141.1" x2="1051.6" y2="1141.1" stroke="#000000" stroke-width="2.6" stroke-linecap="butt"/>
<line x1="1881" y1="1141.1" x2="1894.1" y2="1141.1" stroke="#000000" stroke-width="2.6" stroke-linecap="butt"/>
<line x1="1038.5" y1="1028.8" x2="1051.6" y2="1028.8" stroke="#000000" stroke-width="2.6" stroke-linecap="butt"/>
<line x1="1881" y1="1028.8" x2="1894.1" y2="1028.8" stroke="#000000" stroke-width="2.6" stroke-linecap="butt"/>
<line x1="1038.5" y1="916.5" x2="1051.6" y2="916.5" stroke="#000000" stroke-width="2.6" stroke-linecap="butt"/>
<line x1="1881" y1="916.5" x2="1894.1" y2="916.5" stroke="#000000" stroke-width="2.6" stroke-linecap="butt"/>
<line x1="1044.2" y1="1421.85" x2="1051.6" y2="1421.85" stroke="#000000" stroke-width="2.1" stroke-linecap="butt"/>
<line x1="1881" y1="1421.85" x2="1888.4" y2="1421.85" stroke="#000000" stroke-width="2.1" stroke-linecap="butt"/>
<line x1="1044.2" y1="1309.55" x2="1051.6" y2="1309.55" stroke="#000000" stroke-width="2.1" stroke-linecap="butt"/>
<line x1="1881" y1="1309.55" x2="1888.4" y2="1309.55" stroke="#000000" stroke-width="2.1" stroke-linecap="butt"/>
<line x1="1044.2" y1="1197.25" x2="1051.6" y2="1197.25" stroke="#000000" stroke-width="2.1" stroke-linecap="butt"/>
<line x1="1881" y1="1197.25" x2="1888.4" y2="1197.25" stroke="#000000" stroke-width="2.1" stroke-linecap="butt"/>
<line x1="1044.2" y1="1084.95" x2="1051.6" y2="1084.95" stroke="#000000" stroke-width="2.1" stroke-linecap="butt"/>
<line x1="1881" y1="1084.95" x2="1888.4" y2="1084.95" stroke="#000000" stroke-width="2.1" stroke-linecap="butt"/>
<line x1="1044.2" y1="972.65" x2="1051.6" y2="972.65" stroke="#000000" stroke-width="2.1" stroke-linecap="butt"/>
<line x1="1881" y1="972.65" x2="1888.4" y2="972.65" stroke="#000000" stroke-width="2.1" stroke-linecap="butt"/>
<line x1="1044.2" y1="860.35" x2="1051.6" y2="860.35" stroke="#000000" stroke-width="2.1" stroke-linecap="butt"/>
<line x1="1881" y1="860.35" x2="1888.4" y2="860.35" stroke="#000000" stroke-width="2.1" stroke-linecap="butt"/>
<line x1="1108.45" y1="1506.8" x2="1108.45" y2="1519.7" stroke="#000000" stroke-width="2.6" stroke-linecap="butt"/>
<text x="1098.43" y="1557.8" font-size="36" stroke="#000000" stroke-width="0.3">0</text>
<line x1="1251.5" y1="1506.8" x2="1251.5" y2="1519.7" stroke="#000000" stroke-width="2.6" stroke-linecap="butt"/>
<text x="1240.99" y="1557.8" font-size="36" stroke="#000000" stroke-width="0.3">1</text>
<line x1="1394.55" y1="1506.8" x2="1394.55" y2="1519.7" stroke="#000000" stroke-width="2.6" stroke-linecap="butt"/>
<text x="1384.53" y="1557.8" font-size="36" stroke="#000000" stroke-width="0.3">2</text>
<line x1="1537.6" y1="1506.8" x2="1537.6" y2="1519.7" stroke="#000000" stroke-width="2.6" stroke-linecap="butt"/>
<text x="1527.69" y="1557.8" font-size="36" stroke="#000000" stroke-width="0.3">3</text>
<line x1="1680.65" y1="1506.8" x2="1680.65" y2="1519.7" stroke="#000000" stroke-width="2.6" stroke-linecap="butt"/>
<text x="1670.75" y="1557.8" font-size="36" stroke="#000000" stroke-width="0.3">4</text>
<line x1="1823.7" y1="1506.8" x2="1823.7" y2="1519.7" stroke="#000000" stroke-width="2.6" stroke-linecap="butt"/>
<text x="1813.72" y="1557.8" font-size="36" stroke="#000000" stroke-width="0.3">5</text>
<line x1="1179.98" y1="1506.8" x2="1179.98" y2="1514.2" stroke="#000000" stroke-width="2.1" stroke-linecap="butt"/>
<line x1="1323.03" y1="1506.8" x2="1323.03" y2="1514.2" stroke="#000000" stroke-width="2.1" stroke-linecap="butt"/>
<line x1="1466.08" y1="1506.8" x2="1466.08" y2="1514.2" stroke="#000000" stroke-width="2.1" stroke-linecap="butt"/>
<line x1="1609.12" y1="1506.8" x2="1609.12" y2="1514.2" stroke="#000000" stroke-width="2.1" stroke-linecap="butt"/>
<line x1="1752.18" y1="1506.8" x2="1752.18" y2="1514.2" stroke="#000000" stroke-width="2.1" stroke-linecap="butt"/>
<rect x="1051.6" y="831.9" width="829.4" height="674.9" fill="none" stroke="#000" stroke-width="2.6"/>
</g>
<g class="legend">
<rect x="147.4" y="1324.9" width="219.2" height="162.7" rx="4.8" ry="4.8" fill="#ffffff" fill-opacity="0.8" stroke="#cccccc" stroke-width="3"/>
<rect x="187.2" y="1342.3" width="20.8" height="20.8" fill="#006400"/>
<text x="263.06" y="1365" font-size="35.9" stroke="#000000" stroke-width="0.3" style="text-rendering:geometricPrecision">Pd</text>
<circle cx="197.6" cy="1404.05" r="10.5" fill="#ff0000"/>
<text x="263.06" y="1416.35" font-size="35.9" stroke="#000000" stroke-width="0.3" style="text-rendering:geometricPrecision">PdAg</text>
<polygon points="197.6,1439.7 207.1,1455.4 197.6,1471.1 188.1,1455.4" fill="#0433ff"/>
<text x="263.06" y="1467.7" font-size="35.9" stroke="#000000" stroke-width="0.3" style="text-rendering:geometricPrecision">PdCu</text>
</g>
<g class="legend">
<rect x="1068.9" y="1324.9" width="219.4" height="162.7" rx="4.8" ry="4.8" fill="#ffffff" fill-opacity="0.8" stroke="#cccccc" stroke-width="3"/>
<rect x="1108.7" y="1342.3" width="20.8" height="20.8" fill="#006400"/>
<text x="1184.56" y="1365" font-size="35.9" stroke="#000000" stroke-width="0.3" style="text-rendering:geometricPrecision">Pd</text>
<circle cx="1119.1" cy="1404.05" r="10.5" fill="#ff0000"/>
<text x="1184.56" y="1416.35" font-size="35.9" stroke="#000000" stroke-width="0.3" style="text-rendering:geometricPrecision">PdAg</text>
<polygon points="1119.1,1439.7 1128.6,1455.4 1119.1,1471.1 1109.6,1455.4" fill="#0433ff"/>
<text x="1184.56" y="1467.7" font-size="35.9" stroke="#000000" stroke-width="0.3" style="text-rendering:geometricPrecision">PdCu</text>
</g>
<text transform="translate(145.7 58.8) scale(1 1.03)" x="0" y="0" font-size="43.2" font-weight="bold" style="text-rendering:geometricPrecision">(a) Pd-75°C</text>
<text transform="translate(1067.45 58.8) scale(1 1.03)" x="0" y="0" font-size="43.2" font-weight="bold" style="text-rendering:geometricPrecision">(b) Pd-200°C</text>
<text transform="translate(145.7 884.9) scale(1 1.03)" x="0" y="0" font-size="43.2" font-weight="bold" style="text-rendering:geometricPrecision">(c) 75°C</text>
<text transform="translate(1067.45 884.9) scale(1 1.03)" x="0" y="0" font-size="43.2" font-weight="bold" style="text-rendering:geometricPrecision">(d) 200°C</text>
<text transform="translate(263.47 779.3) scale(1 1.02)" x="0" y="0" font-size="36" font-weight="bold" style="text-rendering:geometricPrecision">H<tspan font-size="26" dx="1.4" dy="10.2">2</tspan><tspan dy="-10.2"> plasma permeation time (min)</tspan></text>
<text transform="translate(1185 779.3) scale(1 1.02)" x="0" y="0" font-size="36" font-weight="bold" style="text-rendering:geometricPrecision">H<tspan font-size="26" dx="1.4" dy="10.2">2</tspan><tspan dy="-10.2"> plasma permeation time (min)</tspan></text>
<text transform="translate(278.38 1604.9) scale(1 1.02)" x="0" y="0" font-size="36" font-weight="bold" style="text-rendering:geometricPrecision">He plasma exposure time (min)</text>
<text transform="translate(1098.35 1604.9) scale(1 1.02)" x="0" y="0" font-size="36" font-weight="bold" style="text-rendering:geometricPrecision">Cumulative He plasma exposure time (min)</text>
<text transform="translate(31.2 343.1) rotate(-90) scale(1 1.02)" x="-159.35" y="0" font-size="36" font-weight="bold" style="text-rendering:geometricPrecision">Relative Flux (a.u.)</text>
<text transform="translate(31.2 1169.35) rotate(-90) scale(1 1.02)" x="-154.35" y="0" font-size="36" font-weight="bold" style="text-rendering:geometricPrecision">Relative flux (a.u.)</text>
</g>
</svg>
</body>
</html>
